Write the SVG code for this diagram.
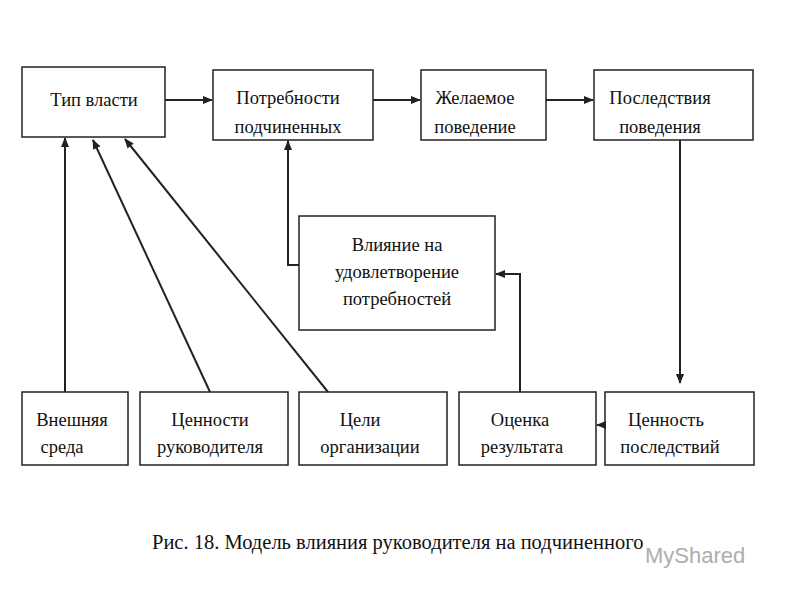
<svg xmlns="http://www.w3.org/2000/svg" width="800" height="600" viewBox="0 0 800 600">
<style>
.b{fill:#fff;stroke:#222;stroke-width:1.5}
.t{font-family:"Liberation Serif",serif;font-size:18.5px;fill:#111;text-anchor:middle}
.c{stroke:#222;stroke-width:2;fill:none}
</style>
<defs><marker id="a" markerWidth="10" markerHeight="8" refX="9" refY="4" orient="auto" markerUnits="userSpaceOnUse"><path d="M0,0L10,4L0,8z" fill="#222"/></marker></defs>
<rect width="800" height="600" fill="#fff"/>
<g id="n1"><rect class="b" x="22" y="67" width="143" height="70"/><text class="t" x="94" y="106">Тип власти</text></g>
<g id="n2"><rect class="b" x="213" y="70" width="160" height="70"/><text class="t" x="288" y="104">Потребности</text><text class="t" x="288" y="133">подчиненных</text></g>
<g id="n3"><rect class="b" x="421" y="70" width="125" height="70"/><text class="t" x="475" y="104">Желаемое</text><text class="t" x="475" y="133">поведение</text></g>
<g id="n4"><rect class="b" x="594" y="70" width="159" height="70"/><text class="t" x="660" y="104">Последствия</text><text class="t" x="660" y="133">поведения</text></g>
<g id="n5"><rect class="b" x="299" y="216" width="196" height="114"/><text class="t" x="397" y="251">Влияние на</text><text class="t" x="397" y="278">удовлетворение</text><text class="t" x="397" y="305">потребностей</text></g>
<g id="n6"><rect class="b" x="22" y="392" width="106" height="73"/><text class="t" x="72" y="426">Внешняя</text><text class="t" x="62" y="453">среда</text></g>
<g id="n7"><rect class="b" x="140" y="392" width="148" height="73"/><text class="t" x="210" y="426">Ценности</text><text class="t" x="210" y="453">руководителя</text></g>
<g id="n8"><rect class="b" x="299" y="392" width="148" height="73"/><text class="t" x="360" y="426">Цели</text><text class="t" x="370" y="453">организации</text></g>
<g id="n9"><rect class="b" x="459" y="392" width="137" height="73"/><text class="t" x="520" y="426">Оценка</text><text class="t" x="522" y="453">результата</text></g>
<g id="n10"><rect class="b" x="605" y="392" width="149" height="73"/><text class="t" x="666" y="426">Ценность</text><text class="t" x="670" y="453">последствий</text></g>
<g id="connectors">
<path class="c" d="M165,100H212" marker-end="url(#a)"/>
<path class="c" d="M373,100H420" marker-end="url(#a)"/>
<path class="c" d="M546,100H593" marker-end="url(#a)"/>
<path class="c" d="M680,140V383" marker-end="url(#a)"/>
<path class="c" d="M605,425H597" marker-end="url(#a)"/>
<path class="c" d="M520,392V274H496" marker-end="url(#a)"/>
<path class="c" d="M299,265H288V141" marker-end="url(#a)"/>
<path class="c" d="M65,392V138" marker-end="url(#a)"/>
<path class="c" d="M210,392L93,140" marker-end="url(#a)"/>
<path class="c" d="M328,392L125,139" marker-end="url(#a)"/>
</g>
<text x="152" y="549" font-family="Liberation Serif,serif" font-size="20.5" fill="#111">Рис. 18. Модель влияния руководителя на подчиненного</text>
<text x="645" y="563" font-family="Liberation Sans,sans-serif" font-size="22" fill="#999" opacity="0.8">MyShared</text>
</svg>
